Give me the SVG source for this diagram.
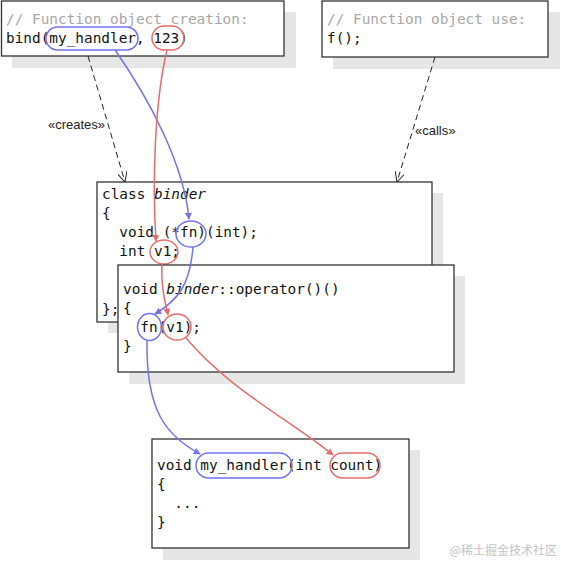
<svg xmlns="http://www.w3.org/2000/svg" width="561" height="561" viewBox="0 0 561 561">
<style>
.shadow{fill:#e6e6e6;stroke:none}
.box{fill:#fff;stroke:#333;stroke-width:1.3}
.code{font-family:"DejaVu Sans Mono","Liberation Mono",monospace;font-size:14.4px;fill:#111;white-space:pre}
.cmt{fill:#a8a8a8}
.it{font-style:italic}
.hb{fill:none;stroke:#7373f0;stroke-width:1.5}
.hr{fill:none;stroke:#e46c6c;stroke-width:1.5}
.dash{fill:none;stroke:#222;stroke-width:1;stroke-dasharray:6,4}
.lbl{font-family:"Liberation Sans",Arial,sans-serif;font-size:13px;fill:#222}
.wm{font-family:"Noto Sans CJK SC",sans-serif;font-size:12px;fill:#c4c4c4}
</style>
<defs>
<marker id="ab" viewBox="0 0 10 10" refX="9" refY="5" markerWidth="7" markerHeight="7" markerUnits="userSpaceOnUse" orient="auto"><path d="M0,0 L10,5 L0,10 Z" fill="#7373f0"/></marker>
<marker id="ar" viewBox="0 0 10 10" refX="9" refY="5" markerWidth="7" markerHeight="7" markerUnits="userSpaceOnUse" orient="auto"><path d="M0,0 L10,5 L0,10 Z" fill="#e46c6c"/></marker>
<marker id="av" viewBox="0 0 10 10" refX="10" refY="5" markerWidth="10" markerHeight="10" markerUnits="userSpaceOnUse" orient="auto"><path d="M0,0 L10,5 L0,10" fill="none" stroke="#222" stroke-width="1"/></marker>
</defs>

<g id="node-creation">
<rect class="shadow" x="12" y="12" width="284" height="56"/>
<rect class="box" x="1.5" y="1" width="282.5" height="55"/>
<text class="code cmt" x="6" y="24">// Function object creation:</text>
<text class="code" x="6" y="43">bind(my_handler, 123)</text>
<rect class="hb" x="46" y="27" width="92" height="23" rx="11.5"/>
<rect class="hr" x="152" y="26" width="32" height="24" rx="12"/>
</g>

<g id="node-use">
<rect class="shadow" x="333" y="12" width="227" height="57"/>
<rect class="box" x="322" y="1" width="226" height="56"/>
<text class="code cmt" x="327" y="24">// Function object use:</text>
<text class="code" x="327" y="43">f();</text>
</g>

<g id="node-binder">
<rect class="shadow" x="108" y="193" width="335" height="140"/>
<rect class="box" x="97" y="182" width="335" height="140"/>
<text class="code" x="102" y="199">class <tspan class="it">binder</tspan></text>
<text class="code" x="102" y="218">{</text>
<text class="code" x="102" y="237" xml:space="preserve">  void (*fn)(int);</text>
<text class="code" x="102" y="256" xml:space="preserve">  int v1;</text>
<text class="code" x="102" y="314">};</text>
<ellipse class="hb" cx="191" cy="234" rx="15" ry="13"/>
<ellipse class="hr" cx="164" cy="252" rx="14" ry="12"/>
</g>

<g id="node-operator">
<rect class="shadow" x="129" y="276" width="336" height="108"/>
<rect class="box" x="118" y="265" width="336" height="107"/>
<text class="code" x="123" y="294">void <tspan class="it">binder</tspan>::operator()()</text>
<text class="code" x="123" y="313">{</text>
<text class="code" x="123" y="332" xml:space="preserve">  fn(v1);</text>
<text class="code" x="123" y="351">}</text>
<ellipse class="hb" cx="149.5" cy="327" rx="12" ry="13.5"/>
<ellipse class="hr" cx="177" cy="327" rx="14" ry="13"/>
</g>

<g id="node-handler">
<rect class="shadow" x="163" y="450" width="257" height="110"/>
<rect class="box" x="152" y="439" width="257" height="109"/>
<text class="code" x="157" y="470">void my_handler(int count)</text>
<text class="code" x="157" y="489">{</text>
<text class="code" x="157" y="508" xml:space="preserve">  ...</text>
<text class="code" x="157" y="527">}</text>
<rect class="hb" x="196" y="453" width="96" height="25" rx="12.5"/>
<rect class="hr" x="330" y="453" width="50" height="25" rx="12.5"/>
</g>

<g id="connectors">
<line class="dash" x1="88" y1="56" x2="125" y2="182" marker-end="url(#av)"/>
<text class="lbl" x="76.5" y="129" text-anchor="middle">«creates»</text>
<line class="dash" x1="435" y1="57" x2="397" y2="182" marker-end="url(#av)"/>
<text class="lbl" x="415" y="135">«calls»</text>
<path class="hb" d="M115,50 C150,100 184,165 189,219" marker-end="url(#ab)"/>
<path class="hr" d="M167,50 C155,100 152,180 156,241" marker-end="url(#ar)"/>
<path class="hb" d="M193,247 C190,285 178,300 155,314" marker-end="url(#ab)"/>
<path class="hr" d="M162,264 C161,290 165,300 168,315" marker-end="url(#ar)"/>
<path class="hb" d="M147,341 C146,410 165,435 200,454" marker-end="url(#ab)"/>
<path class="hr" d="M186,338 C230,390 290,420 333,455" marker-end="url(#ar)"/>
</g>

<text class="wm" x="557" y="555" text-anchor="end">@稀土掘金技术社区</text>
</svg>
